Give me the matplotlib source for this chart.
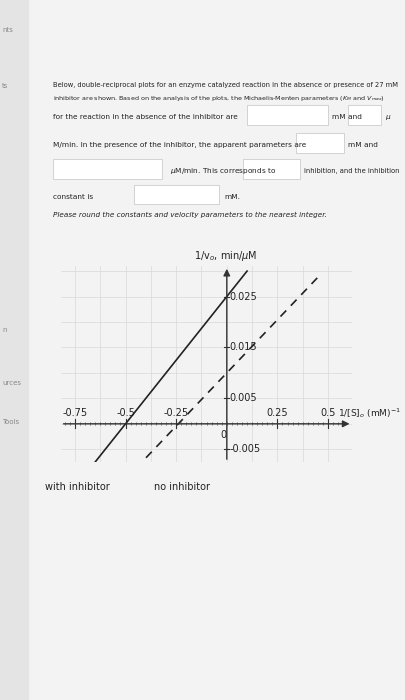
import numpy as np
import matplotlib.pyplot as plt
from matplotlib.patches import Rectangle

# data
x_ticks = [-0.75, -0.5, -0.25, 0.25, 0.5]
x_tick_labels = ['-0.75', '-0.5', '-0.25', '0.25', '0.5']
y_ticks = [0.025, 0.015, 0.005, -0.005]
y_tick_labels = ['0.025', '0.015', '0.005', '-0.005']
inh_x = [-0.85, 0.1]            # with inhibitor (solid)
inh_y = [-0.0175, 0.03]
noinh_x = [-0.45, 0.45]         # no inhibitor (dashed)
noinh_y = [-0.0088, 0.0288]

fig = plt.figure(figsize=(4.05, 7), dpi=100)
fig.patch.set_facecolor('#f3f3f3')

# left strip of sidebar
fig.add_artist(Rectangle((0, 0), 0.07, 1, transform=fig.transFigure, color='#e4e4e4'))
for yy, t in [(0.955, 'nts'), (0.875, 'ts'), (0.525, 'n'), (0.45, 'urces'), (0.395, 'Tools')]:
    fig.text(0.005, yy, t, fontsize=5, color='#888')

fs = 5.3
fig.text(0.13, 0.875, 'Below, double-reciprocal plots for an enzyme catalyzed reaction in the absence or presence of 27 mM',
         fontsize=4.9, color='#222')
fig.text(0.13, 0.857, 'inhibitor are shown. Based on the analysis of the plots, the Michaelis-Menten parameters ($K_M$ and $V_{max}$)',
         fontsize=4.6, color='#222')
fig.text(0.13, 0.830, 'for the reaction in the absence of the inhibitor are', fontsize=fs, color='#222')
fig.text(0.13, 0.790, 'M/min. In the presence of the inhibitor, the apparent parameters are', fontsize=fs, color='#222')
fig.text(0.82, 0.830, 'mM and', fontsize=fs, color='#222')
fig.text(0.95, 0.830, '$\\mu$', fontsize=fs, color='#222')
fig.text(0.86, 0.790, 'mM and', fontsize=fs, color='#222')
fig.text(0.42, 0.753, '$\\mu$M/min. This corresponds to', fontsize=fs, color='#222')
fig.text(0.75, 0.753, 'inhibition, and the inhibition', fontsize=4.9, color='#222')
fig.text(0.13, 0.716, 'constant is', fontsize=fs, color='#222')
fig.text(0.555, 0.716, 'mM.', fontsize=fs, color='#222')
fig.text(0.13, 0.690, 'Please round the constants and velocity parameters to the nearest integer.',
         fontsize=fs - 0.1, style='italic', color='#222')
for bx, by, bw, bh in [(0.61, 0.822, 0.2, 0.028), (0.86, 0.822, 0.08, 0.028),
                       (0.73, 0.782, 0.12, 0.028), (0.13, 0.745, 0.27, 0.028),
                       (0.60, 0.745, 0.14, 0.028), (0.33, 0.708, 0.21, 0.028)]:
    fig.add_artist(Rectangle((bx, by), bw, bh, transform=fig.transFigure,
                             fill=True, facecolor='white', edgecolor='#ccc', lw=0.6))

ax = fig.add_axes([0.15, 0.34, 0.72, 0.28])
ax.set_facecolor('#f3f3f3')
ax.set_xlim(-0.82, 0.62)
ax.set_ylim(-0.0075, 0.031)
for gx in np.arange(-0.75, 0.6, 0.125):
    ax.axvline(gx, color='#d8d8d8', lw=0.5, zorder=0)
for gy in np.arange(-0.005, 0.031, 0.005):
    ax.axhline(gy, color='#d8d8d8', lw=0.5, zorder=0)
for s in ax.spines.values():
    s.set_visible(False)
ax.set_xticks([])
ax.set_yticks([])

ax.annotate('', xy=(0.62, 0), xytext=(-0.82, 0),
            arrowprops=dict(arrowstyle='-|>', color='#333', lw=1))
ax.annotate('', xy=(0, 0.031), xytext=(0, -0.0075),
            arrowprops=dict(arrowstyle='-|>', color='#333', lw=1))
for mx in np.arange(-0.8, 0.6, 0.025):
    ax.plot([mx, mx], [-0.0003, 0.0003], color='#555', lw=0.4)
for xt, lab in zip(x_ticks, x_tick_labels):
    ax.plot([xt, xt], [-0.0009, 0.0009], color='#333', lw=0.8)
    ax.text(xt, 0.0012, lab, ha='center', va='bottom', fontsize=7, color='#222')
for yt, lab in zip(y_ticks, y_tick_labels):
    ax.plot([-0.012, 0.012], [yt, yt], color='#333', lw=0.8)
    ax.text(0.015, yt, lab, ha='left', va='center', fontsize=7, color='#222')
ax.text(0.0, -0.0012, '0', ha='right', va='top', fontsize=7, color='#222')
ax.text(-0.005, 0.0315, '1/v$_o$, min/$\\mu$M', ha='center', va='bottom', fontsize=7, color='#222')
ax.text(0.55, 0.0008, '1/[S]$_o$ (mM)$^{-1}$', ha='left', va='bottom', fontsize=6.5, color='#222')

ax.plot(inh_x, inh_y, color='#222', lw=1.2)
ax.plot(noinh_x, noinh_y, color='#222', lw=1.2, ls=(0, (5, 4)))

fig.text(0.11, 0.30, 'with inhibitor', fontsize=7, color='#222')
fig.text(0.38, 0.30, 'no inhibitor', fontsize=7, color='#222')

fig.savefig('out.png', dpi=100, facecolor=fig.get_facecolor())
